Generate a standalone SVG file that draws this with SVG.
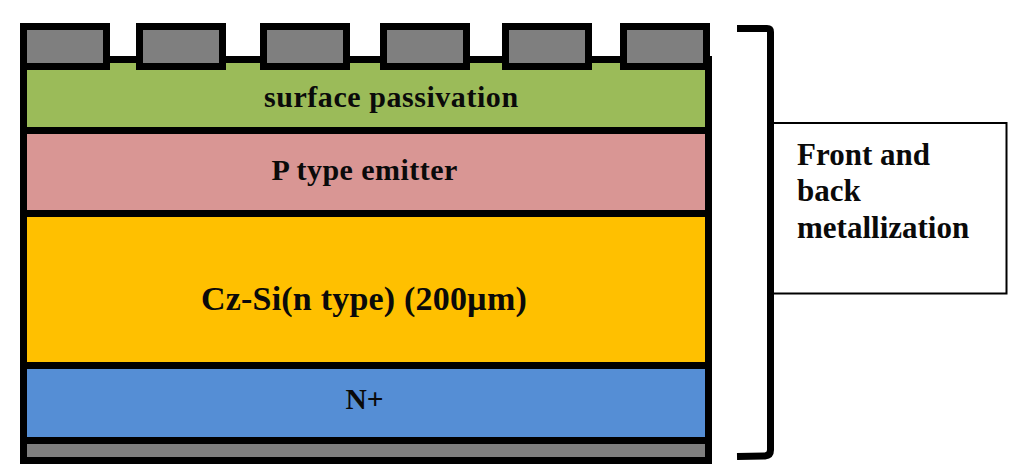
<svg xmlns="http://www.w3.org/2000/svg" width="1035" height="471" viewBox="0 0 1035 471">
<style>
.t{font-family:"Liberation Serif","Times New Roman",serif;font-weight:bold;fill:#0a0a0a}
.m{fill:#7f7f7f;stroke:#000;stroke-width:7}
</style>
<rect width="1035" height="471" fill="#fff"/>
<g id="stack">
<rect x="20" y="56" width="692" height="408" fill="#000"/>
<rect id="passivation" x="27" y="63" width="678" height="64" fill="#9bbb59"/>
<rect id="emitter" x="27" y="134" width="678" height="76" fill="#d99694"/>
<rect id="base" x="27" y="217" width="678" height="145" fill="#ffc000"/>
<rect id="nplus" x="27" y="369" width="678" height="68" fill="#558ed5"/>
<rect id="back" x="27" y="444" width="678" height="13" fill="#7f7f7f"/>
</g>
<g id="contacts">
<rect class="m" x="23.500" y="26.500" width="83" height="40"/>
<rect class="m" x="139.500" y="26.500" width="83" height="40"/>
<rect class="m" x="263.500" y="26.500" width="83" height="40"/>
<rect class="m" x="383.500" y="26.500" width="83" height="40"/>
<rect class="m" x="505.500" y="26.500" width="83" height="40"/>
<rect class="m" x="623.500" y="26.500" width="83" height="40"/>
</g>
<g id="labels">
<text class="t" x="264" y="107" font-size="30" letter-spacing="0.55">surface passivation</text>
<text class="t" x="271.500" y="180" font-size="30" letter-spacing="0.45">P type emitter</text>
<text class="t" x="201" y="309.500" font-size="34" letter-spacing="0.2">Cz-Si(n type) (200µm)</text>
<text class="t" x="345.500" y="409" font-size="29.500">N+</text>
</g>
<g id="note">
<rect x="771" y="123" width="235.500" height="170.500" fill="#fff" stroke="#000" stroke-width="2"/>
<text class="t" x="797" y="165" font-size="31">Front and</text>
<text class="t" x="797" y="201" font-size="31">back</text>
<text class="t" x="797" y="238" font-size="31">metallization</text>
</g>
<g id="connectors">
<path d="M737 28.500H767Q770.500 28.500 770.500 32V450Q770.500 455.500 765 456L737 456.500" fill="none" stroke="#000" stroke-width="7"/>
</g>
</svg>
